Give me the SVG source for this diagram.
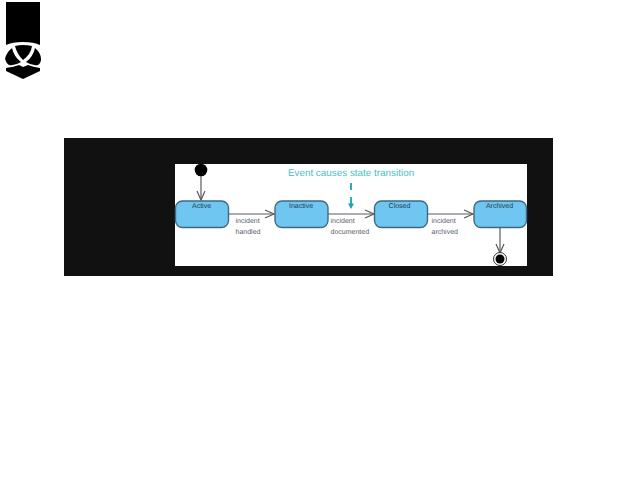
<svg xmlns="http://www.w3.org/2000/svg" width="638" height="478" viewBox="0 0 638 478">
<style>
.n{fill:#6fc6f0;stroke:#3d6a80;stroke-width:1.4}
.t{font:7px "Liberation Sans",Arial,sans-serif;fill:#55606a;text-rendering:geometricPrecision}
.s{font:7px "Liberation Sans",Arial,sans-serif;fill:#1d3c50;text-anchor:middle;text-rendering:geometricPrecision;opacity:.99}
.c{fill:none;stroke:#5a5a5a;stroke-width:1.2}
</style>
<defs><marker id="a" markerWidth="12" markerHeight="10" refX="10" refY="5" orient="auto" markerUnits="userSpaceOnUse"><path d="M1 1L10 5L1 9" fill="none" stroke="#5a5a5a" stroke-width="1.2"/></marker></defs>
<rect width="638" height="478" fill="#fff"/>
<g id="logo">
<path d="M6 2H40V45Q34 42 23 42Q12 42 6 45Z" fill="#000"/>
<path d="M15 46Q23 44 32 46Q31 54 23 60Q17 54 15 46Z" fill="#000"/>
<path d="M12 48Q14 57 21 62Q15 66 9 65Q6 63 5 59Q6 53 12 48Z" fill="#000"/>
<path d="M35 48Q33 57 26 62Q32 66 38 65Q41 63 41 59Q41 53 35 48Z" fill="#000"/>
<path d="M6 68Q14 67 19 65L23 67L28 65Q33 67 40 68V71L23 79L6 71Z" fill="#000"/>
</g>
<rect x="64" y="138" width="489" height="138" fill="#111"/>
<rect x="175" y="164" width="352" height="102" fill="#fff"/>
<g id="connectors">
<path class="c" marker-end="url(#a)" d="M201 176V200"/>
<path class="c" marker-end="url(#a)" d="M229 214H274"/>
<path class="c" marker-end="url(#a)" d="M328 214H374"/>
<path class="c" marker-end="url(#a)" d="M428 214H473"/>
<path class="c" marker-end="url(#a)" d="M500 228V253"/>
</g>
<g id="start"><circle cx="201" cy="170" r="6.300" fill="#000"/></g>
<g id="active"><rect class="n" x="175.500" y="201" width="53" height="26.500" rx="7"/><text class="s" x="201.500" y="208">Active</text></g>
<g id="inactive"><rect class="n" x="275" y="201" width="53" height="26.500" rx="7"/><text class="s" x="301" y="208">Inactive</text></g>
<g id="closed"><rect class="n" x="374.500" y="201" width="53" height="26.500" rx="7"/><text class="s" x="399.500" y="208">Closed</text></g>
<g id="archived"><rect class="n" x="474" y="201" width="52.500" height="26.500" rx="7"/><text class="s" x="499.500" y="208">Archived</text></g>
<g id="end"><circle cx="500" cy="259" r="6.500" fill="#fff" stroke="#333"/><circle cx="500" cy="259" r="4.500" fill="#000"/></g>
<g id="labels" opacity=".99">
<text class="t" x="235.500" y="223">incident</text><text class="t" x="235.500" y="233.500">handled</text>
<text class="t" x="330.500" y="223">incident</text><text class="t" x="330.500" y="233.500">documented</text>
<text class="t" x="431.500" y="223">incident</text><text class="t" x="431.500" y="233.500">archived</text>
</g>
<g id="event">
<text x="351" y="176" text-anchor="middle" opacity=".99" style="font:9.900px 'Liberation Sans',Arial,sans-serif;fill:#4dbdc4;text-rendering:geometricPrecision">Event causes state transition</text>
<path d="M351 183V190M351 197V206" stroke="#16a5b5" stroke-width="1.800" fill="none"/>
<path d="M348 203.500L351 209L354 203.500Z" fill="#16a5b5"/>
</g>
</svg>
